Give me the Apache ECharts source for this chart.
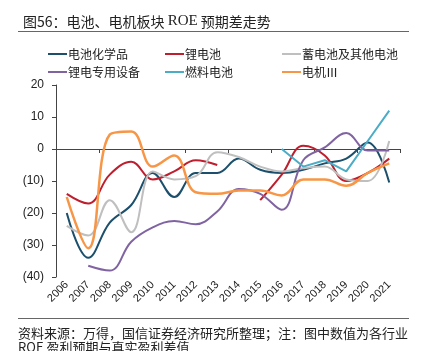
<!DOCTYPE html>
<html>
<head>
<meta charset="utf-8">
<script src="https://cdn.jsdelivr.net/npm/echarts@6/dist/echarts.min.js"></script>
<style>
html, body { margin: 0; padding: 0; background: #fff; }
#roe_chart { width: 424px; height: 351px; }
</style>
</head>
<body>
<div id="roe_chart"></div>
<script>
// ROE expectation gap, battery & motor sectors
var years = ["2006", "2007", "2008", "2009", "2010", "2011", "2012", "2013",
             "2014", "2015", "2016", "2017", "2018", "2019", "2020", "2021"];
var y_ticks = [-40, -30, -20, -10, 0, 10, 20];

var battery_chem = [-20, -34, -23, -17.5, -7.5, -15, -7.5, -7.5, -3, -6.5, -7.5, -6.5, -4.5, -3, 2, -10.5];
var lithium_batt = [-14, -17, -8, -4, -9.5, -7, -3.5, -5, null, -16, -8, 1, -2, -10, -7.5, -3];
var storage_batt = [-24, -27, -16, -26, -7, -9.5, -8.5, -1, -2.5, -5.5, -7, -6, -5.5, -9.5, -10, 2.5];
var li_equipment = [null, -36.5, -38, -29, -24.5, -22.5, -23.5, -19.5, -12.5, -14, -19, -3.5, 0.5, 5, -0.5, -0.5];
var fuel_cell = [null, null, null, null, null, null, null, null, null, null, 0, -5.5, -3.5, -7, 2.5, 12];
var motor = [-15, -31, 4.5, 5.5, -5.5, -2, -13.5, -14, -13, -13, -14.5, -9.5, -9.5, -11.5, -7.5, -4.5];

var series_names = ["电池化学品", "锂电池", "蓄电池及其他电池", "锂电专用设备", "燃料电池", "电机Ⅲ"];
var series_colors = ["#1b4f6b", "#be1e2d", "#bfbfbf", "#8064a2", "#4bacc6", "#f79646"];
var series_data = [battery_chem, lithium_batt, storage_batt, li_equipment, fuel_cell, motor];

var cjk_font = '"Noto Sans CJK SC", sans-serif';

function make_legend(left, names) {
    return {
        orient: "vertical",
        left: left,
        top: 42,
        icon: "rect",
        itemWidth: 19,
        itemHeight: 2,
        itemGap: 4,
        data: names,
        textStyle: {fontSize: 12, lineHeight: 14, color: "#222", fontFamily: cjk_font, padding: [0, 0, 0, -4]}
    };
}

var series_list = [];
for (var i = 0; i < series_names.length; i++) {
    series_list.push({
        name: series_names[i],
        type: "line",
        data: series_data[i],
        xAxisIndex: 0,
        smooth: i == 4 ? false : 0.4,
        symbol: "none",
        connectNulls: false,
        lineStyle: {width: i == 5 ? 2.5 : 2, color: series_colors[i]},
        itemStyle: {color: series_colors[i]}
    });
}

var roe_option = {
    animation: false,
    title: {
        text: "图56：电池、电机板块 {s|ROE} 预期差走势",
        left: 18,
        top: 9,
        textStyle: {
            fontSize: 14,
            fontWeight: "normal",
            color: "#222",
            fontFamily: cjk_font,
            rich: {s: {fontSize: 15, fontFamily: '"Liberation Serif", serif', color: "#222"}}
        }
    },
    legend: [
        make_legend(43, ["电池化学品", "锂电专用设备"]),
        make_legend(160, ["锂电池", "燃料电池"]),
        make_legend(277, ["蓄电池及其他电池", "电机Ⅲ"])
    ],
    grid: {left: 56, right: 24, top: 85, bottom: 74},
    xAxis: [
        {
            type: "category",
            data: years,
            boundaryGap: true,
            axisLine: {onZero: true, lineStyle: {color: "#444", width: 1}},
            axisTick: {show: true, length: 4, lineStyle: {color: "#444"}},
            axisLabel: {show: false}
        },
        {
            type: "category",
            data: years,
            position: "bottom",
            boundaryGap: true,
            axisLine: {show: false, onZero: false},
            axisTick: {show: false},
            axisLabel: {rotate: 45, fontSize: 11, color: "#222", margin: 6, fontFamily: '"Liberation Sans", Arial, sans-serif'}
        }
    ],
    yAxis: {
        type: "value",
        min: y_ticks[0],
        max: y_ticks[y_ticks.length - 1],
        interval: 10,
        axisLine: {show: true, lineStyle: {color: "#444"}},
        axisTick: {show: true, length: 4, lineStyle: {color: "#444"}},
        splitLine: {show: false},
        axisLabel: {
            color: "#222",
            fontSize: 12,
            margin: 12,
            fontFamily: '"Liberation Sans", Arial, sans-serif',
            formatter: function (v) {
                return v < 0 ? "(" + (-v) + ")" : String(v);
            }
        }
    },
    graphic: [
        {type: "line", shape: {x1: 18, y1: 31.5, x2: 409, y2: 31.5}, style: {stroke: "#666", lineWidth: 1}},
        {type: "line", shape: {x1: 18, y1: 318.5, x2: 409, y2: 318.5}, style: {stroke: "#666", lineWidth: 1}},
        {type: "text", left: 18, top: 327, style: {
            text: "资料来源：万得，国信证券经济研究所整理；注：图中数值为各行业",
            font: '13px "Noto Sans CJK SC"', fill: "#222"}},
        {type: "text", left: 18, top: 341, style: {
            text: "ROE 盈利预期与真实盈利差值",
            font: '13px "Noto Sans CJK SC"', fill: "#222"}}
    ],
    series: series_list
};

var roe_chart = echarts.init(document.getElementById("roe_chart"));
roe_chart.setOption(roe_option);
</script>
</body>
</html>
